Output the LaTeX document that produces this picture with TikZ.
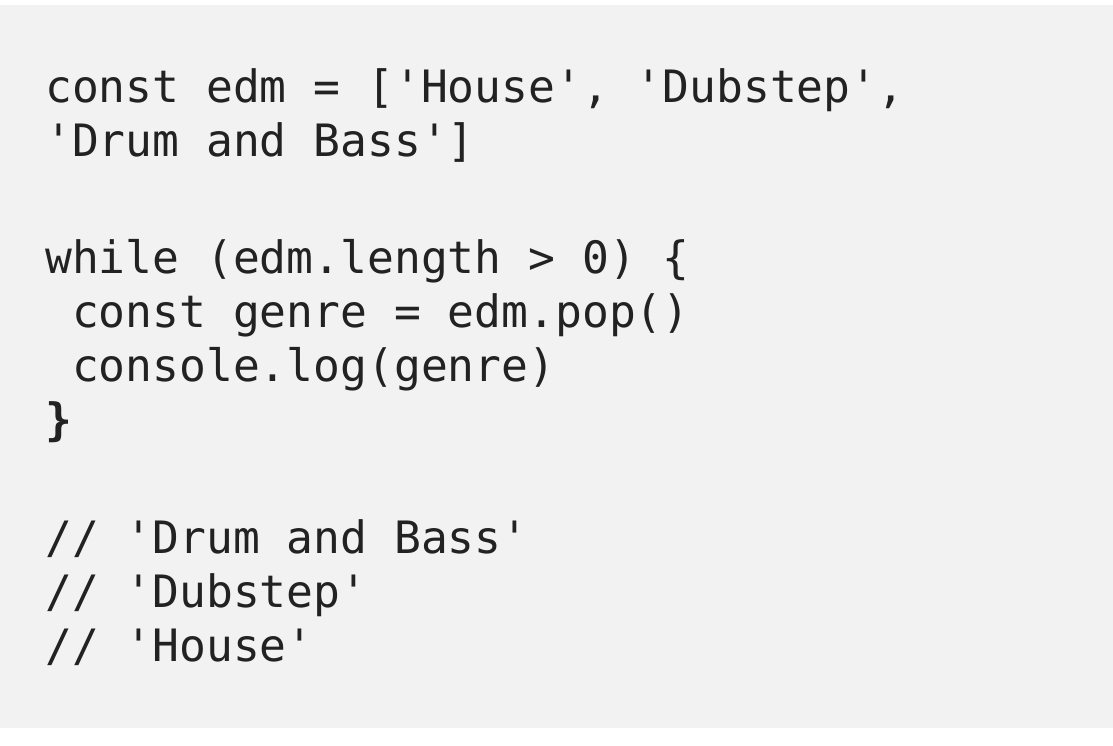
\documentclass[tikz,border=0pt]{standalone}
\usepackage{fontspec}
\setmonofont{DejaVu Sans Mono}
\definecolor{bg}{HTML}{F2F2F2}
\definecolor{txt}{HTML}{222222}
\begin{document}
\begin{tikzpicture}[x=1pt,y=1pt,
  code/.style={anchor=base west,inner sep=0pt,text=txt,font=\fontsize{44.6}{50}\selectfont\ttfamily}]
\useasboundingbox (0,0) rectangle (1113,745);
\fill[white] (0,0) rectangle (1113,745);
\fill[bg] (0,17) rectangle (1113,740);
\node[code] (l1) at (45,642) {const edm = ['House', 'Dubstep',};
\node[code] (l2) at (45,588) {'Drum and Bass']};
\node[code] (l3) at (45,471) {while (edm.length > 0) \{};
\node[code] (l4) at (45,417) {\ const genre = edm.pop()};
\node[code] (l5) at (45,363) {\ console.log(genre)};
\node[code] (l6) at (45,309) {\bfseries \}};
\node[code] (l7) at (45,192) {// 'Drum and Bass'};
\node[code] (l8) at (45,138) {// 'Dubstep'};
\node[code] (l9) at (45,84) {// 'House'};
\end{tikzpicture}
\end{document}
